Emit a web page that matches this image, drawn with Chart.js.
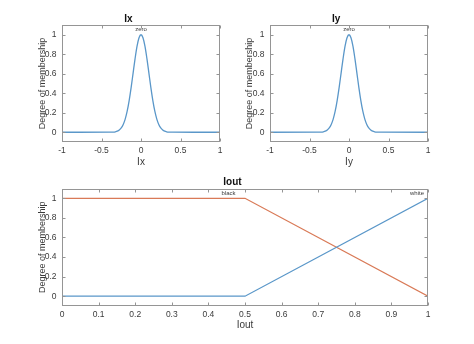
<!DOCTYPE html>
<html>
<head>
<meta charset="utf-8">
<script src="https://cdn.jsdelivr.net/npm/chart.js@4.4.1/dist/chart.umd.min.js"></script>
<style>
  html, body { margin: 0; padding: 0; background: #fff; }
  #wrap { position: relative; width: 474px; height: 344px; }
  #wrap canvas { position: absolute; left: 0; top: 0; }
</style>
</head>
<body>
<div id="wrap">
  <canvas id="ixChart" width="474" height="344"></canvas>
  <canvas id="iyChart" width="474" height="344"></canvas>
  <canvas id="ioutChart" width="474" height="344"></canvas>
</div>
<script>
// input membership function "zero" (gaussian bump), sampled
const gaussX = [-1, -0.4, -0.35, -0.325, -0.3, -0.275, -0.25, -0.225, -0.2, -0.175, -0.15, -0.125, -0.1, -0.075, -0.05, -0.025,
                0, 0.025, 0.05, 0.075, 0.1, 0.125, 0.15, 0.175, 0.2, 0.225, 0.25, 0.275, 0.3, 0.325, 0.35, 0.4, 1];
const ixZero = [0, 0.0003, 0.002, 0.005, 0.011, 0.023, 0.044, 0.080, 0.135, 0.216, 0.325, 0.458, 0.607, 0.755, 0.883, 0.969,
                1, 0.969, 0.883, 0.755, 0.607, 0.458, 0.325, 0.216, 0.135, 0.080, 0.044, 0.023, 0.011, 0.005, 0.002, 0.0003, 0];
const iyZero = [0, 0.0003, 0.002, 0.005, 0.011, 0.023, 0.044, 0.080, 0.135, 0.216, 0.325, 0.458, 0.607, 0.755, 0.883, 0.969,
                1, 0.969, 0.883, 0.755, 0.607, 0.458, 0.325, 0.216, 0.135, 0.080, 0.044, 0.023, 0.011, 0.005, 0.002, 0.0003, 0];

// output membership functions
const ioutX = [0, 0.5, 1];
const ioutWhite = [0, 0, 1];
const ioutBlack = [1, 1, 0];

const gaussTicks = [-1, -0.5, 0, 0.5, 1];
const ioutTicks = [0, 0.1, 0.2, 0.3, 0.4, 0.5, 0.6, 0.7, 0.8, 0.9, 1];
const degreeTicks = [0, 0.2, 0.4, 0.6, 0.8, 1];

const BLUE = '#5a97c9';
const RED = '#d97a57';
const BOX = '#959595';
const TEXT = '#3a3a3a';
const FONT = "'Liberation Sans', Arial, Helvetica, sans-serif";

const fmt = v => String(Math.round(v * 10) / 10);
const points = (xs, ys) => xs.map((x, i) => ({ x: x, y: ys[i] }));

// box around the axes, inward tick marks and the MF name labels
const matlabAxes = {
  id: 'matlabAxes',
  afterDatasetsDraw(chart, args, opts) {
    const { ctx, chartArea: a, scales } = chart;
    const l = Math.round(a.left) + 0.5, r = Math.round(a.right) - 0.5;
    const t = Math.round(a.top) + 0.5, b = Math.round(a.bottom) - 0.5;
    ctx.save();
    ctx.strokeStyle = BOX;
    ctx.lineWidth = 1;
    ctx.strokeRect(l, t, r - l, b - t);
    ctx.beginPath();
    scales.x.ticks.forEach(tk => {
      const px = Math.round(scales.x.getPixelForValue(tk.value)) + 0.5;
      ctx.moveTo(px, b); ctx.lineTo(px, b - 3);
      ctx.moveTo(px, t); ctx.lineTo(px, t + 3);
    });
    scales.y.ticks.forEach(tk => {
      const py = Math.round(scales.y.getPixelForValue(tk.value)) + 0.5;
      ctx.moveTo(l, py); ctx.lineTo(l + 3, py);
      ctx.moveTo(r, py); ctx.lineTo(r - 3, py);
    });
    ctx.stroke();

    ctx.fillStyle = TEXT;
    ctx.font = '6px ' + FONT;
    ctx.textAlign = 'center';
    ctx.textBaseline = 'middle';
    (opts.labels || []).forEach(lb => {
      ctx.fillText(lb.text, scales.x.getPixelForValue(lb.x), scales.y.getPixelForValue(lb.y) - 5);
    });
    ctx.restore();
  }
};

function makeChart(id, c) {
  return new Chart(document.getElementById(id), {
    type: 'line',
    data: { datasets: c.datasets },
    plugins: [matlabAxes],
    options: {
      responsive: false,
      animation: false,
      devicePixelRatio: 1,
      layout: { padding: c.padding },
      elements: { point: { radius: 0 } },
      plugins: {
        legend: { display: false },
        tooltip: { enabled: false },
        title: {
          display: true, text: c.title, color: '#111',
          font: { family: FONT, size: 10, weight: 'bold' },
          padding: { top: 0, bottom: 0 }
        },
        matlabAxes: { labels: c.labels }
      },
      scales: {
        x: {
          type: 'linear', min: c.xTicks[0], max: c.xTicks[c.xTicks.length - 1],
          afterBuildTicks: s => { s.ticks = c.xTicks.map(v => ({ value: v })); },
          afterFit: s => { s.height = c.xAxisHeight; },
          grid: { display: false, drawTicks: false },
          border: { display: false },
          ticks: { padding: 3.5, color: TEXT, font: { family: FONT, size: 8.5 }, callback: fmt, maxRotation: 0, autoSkip: false },
          title: { display: true, text: c.xTitle, color: TEXT, padding: 0, font: { family: FONT, size: 10 } }
        },
        y: {
          type: 'linear', min: -0.1, max: 1.1,
          afterBuildTicks: s => { s.ticks = degreeTicks.map(v => ({ value: v })); },
          afterFit: s => { s.width = c.yAxisWidth; },
          grid: { display: false, drawTicks: false },
          border: { display: false },
          ticks: { padding: 5.5, color: TEXT, font: { family: FONT, size: 8.5 }, callback: fmt },
          title: { display: true, text: 'Degree of membership', color: TEXT, padding: 0, font: { family: FONT, size: 9 } }
        }
      }
    }
  });
}

makeChart('ixChart', {
  title: 'Ix', xTitle: 'Ix', xTicks: gaussTicks,
  padding: { left: 37, right: 254, top: 13, bottom: 176 },
  yAxisWidth: 25, xAxisHeight: 26,
  labels: [{ text: 'zero', x: 0, y: 1 }],
  datasets: [{ data: points(gaussX, ixZero), borderColor: BLUE, borderWidth: 1.3, cubicInterpolationMode: 'monotone' }]
});

makeChart('iyChart', {
  title: 'Iy', xTitle: 'Iy', xTicks: gaussTicks,
  padding: { left: 244.5, right: 46, top: 13, bottom: 176 },
  yAxisWidth: 25.5, xAxisHeight: 26,
  labels: [{ text: 'zero', x: 0, y: 1 }],
  datasets: [{ data: points(gaussX, iyZero), borderColor: BLUE, borderWidth: 1.3, cubicInterpolationMode: 'monotone' }]
});

makeChart('ioutChart', {
  title: 'Iout', xTitle: 'Iout', xTicks: ioutTicks,
  padding: { left: 37, right: 46, top: 176.5, bottom: 13 },
  yAxisWidth: 25, xAxisHeight: 25,
  labels: [{ text: 'black', x: 0.455, y: 1 }, { text: 'white', x: 0.97, y: 1 }],
  datasets: [
    { data: points(ioutX, ioutWhite), borderColor: BLUE, borderWidth: 1.3 },
    { data: points(ioutX, ioutBlack), borderColor: RED, borderWidth: 1.3 }
  ]
});
</script>
</body>
</html>
